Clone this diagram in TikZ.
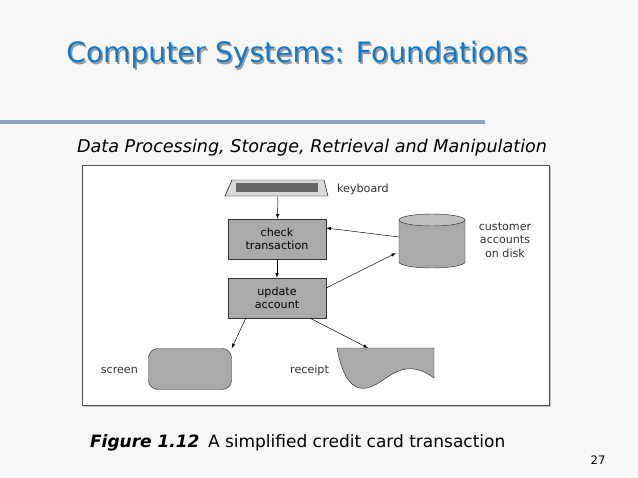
\documentclass[tikz,border=0pt]{standalone}
\usepackage{fontspec}
\setmainfont{DejaVu Sans}
\usetikzlibrary{shapes.geometric, shadows, positioning}
\definecolor{titleblue}{RGB}{20,120,200}
\definecolor{rulegray}{RGB}{140,165,195}
\definecolor{boxgray}{RGB}{170,170,170}

\begin{document}
\begin{tikzpicture}[x=0.03cm, y=-0.03cm, >=latex,
    every node/.style={font=\fontsize{9.5}{11.5}\selectfont},
    proc/.style={draw=black!80, fill=boxgray, minimum width=98*0.03cm, minimum height=40*0.03cm, align=center, inner sep=0pt},
    lbl/.style={align=center, text=black!80},
    link/.style={->, thin}]
  % Slide background
  \fill[black!3] (0,0) rectangle (638,478);
  \useasboundingbox (0,0) rectangle (638,478);

  % Title and rule
  \node[text=black!40, font=\fontsize{24}{26}\selectfont] at (298.5,56.5) {Computer Systems: Foundations};
  \node[text=titleblue, font=\fontsize{24}{26}\selectfont] (title) at (297,55) {Computer Systems: Foundations};
  \draw[rulegray, line width=4pt] (0,122) -- (485,122);
  \node[anchor=west, font=\itshape\fontsize{15}{17}\selectfont] (sub) at (73,148) {Data Processing, Storage, Retrieval and Manipulation};

  % Figure frame
  \draw[black!70, fill=white, drop shadow={shadow xshift=2pt, shadow yshift=-2pt, opacity=0.4}] (82,165) rectangle (549,405);

  % Keyboard
  \coordinate (kbc) at (278,188);
  \draw[fill=black!15] (225,196) -- (232,180) -- (324,180) -- (328,196) -- cycle;
  \fill[black!60] (236,183) rectangle (318,192);
  \node[lbl, anchor=west] (kb) at (333,189) {keyboard};

  % Processing boxes
  \node[proc] (check) at (277,239) {check\\transaction};
  \node[proc] (update) at (277,298) {update\\account};

  % Disk
  \draw[black!80, fill=boxgray] (399,220) -- (399,262) arc[start angle=180, end angle=360, x radius=33, y radius=-6] -- (465,220);
  \draw[black!80, fill=black!25] (432,220) ellipse[x radius=33, y radius=6];
  \coordinate (diskw) at (399,237);
  \coordinate (disksw) at (396,253);
  \node[lbl] (disklbl) at (505,240) {customer\\accounts\\on disk};

  % Screen and receipt
  \node[draw=black!80, fill=boxgray, rounded corners=8pt, minimum width=83*0.03cm, minimum height=41*0.03cm] (screen) at (190,369) {};
  \node[lbl, anchor=east] (scrlbl) at (142,370) {screen};
  \draw[black!80, fill=boxgray] (337,348) -- (434,348) -- (434,378)
    .. controls (410,360) and (395,372) .. (380,382)
    .. controls (362,394) and (345,392) .. (337,348) -- cycle;
  \coordinate (rcpt) at (368,348);
  \node[lbl, anchor=east] (rcplbl) at (333,370) {receipt};

  % Connectors
  \draw[link] (kbc |- 0,196) -- (check);
  \draw[link] (check) -- (update);
  \draw[link] (diskw) -- (check.east |- 0,228);
  \draw[link] (update.east |- 0,288) -- (disksw);
  \draw[link] (update.south west) ++(18,0) -- (screen.north east);
  \draw[link] (update.south east) ++(-16,0) -- (rcpt);

  % Caption
  \node[anchor=west, font=\fontsize{14.5}{16}\selectfont] (cap) at (86,443) {\textbf{\textit{Figure 1.12}}\enspace A simplified credit card transaction};
  \node[font=\fontsize{10}{11}\selectfont] (pg) at (598,460) {27};
\end{tikzpicture}
\end{document}
